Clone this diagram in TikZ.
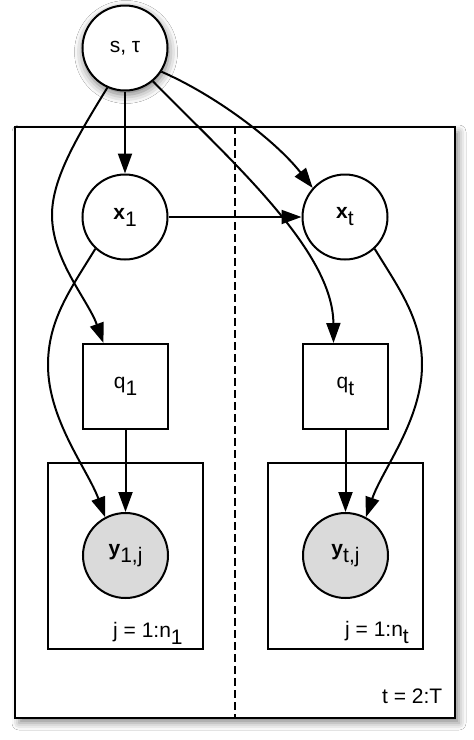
\documentclass[tikz,border=0pt]{standalone}
\usepackage{fontspec}
\setmainfont{Liberation Sans}
\usetikzlibrary{arrows.meta,shadows.blur}
\definecolor{obsgray}{RGB}{218,218,218}
\newcommand\lowsub[1]{\raisebox{-7pt}{#1}}
\begin{document}
\begin{tikzpicture}[x=1pt,y=-1pt,
  font=\fontsize{21}{24}\selectfont,
  arr/.style={line width=2pt, -{Triangle[length=20pt,width=14pt]}},
  var/.style={circle, draw, line width=2pt, minimum size=85pt, inner sep=0pt, fill=white},
  obs/.style={var, fill=obsgray},
  factor/.style={rectangle, draw, line width=2pt, minimum size=85pt, inner sep=0pt, fill=white},
  plate/.style={rectangle, draw, line width=2pt, inner sep=0pt},
  lbl/.style={inner sep=0pt, anchor=base west},
]
\useasboundingbox[fill=white] (0,0) rectangle (474,740);

% outer plate
\node[plate, fill=white, minimum width=440pt, minimum height=591pt,
      blur shadow={shadow xshift=4pt, shadow yshift=-5pt, shadow blur radius=7pt, shadow opacity=45}]
      (outer) at (235,422.5) {};
\draw[dashed, dash pattern=on 8pt off 4pt, line width=1.6pt] (outer.north) -- (outer.south);
\node[lbl] (tlab) at (382,703) {t = 2:T};

% inner plates
\node[plate, minimum width=155pt, minimum height=186pt] (plate1) at (125.5,556) {};
\node[plate, minimum width=155pt, minimum height=186pt] (platet) at (345.5,556) {};
\node[lbl] (jlab1) at (113,637) {j = 1:n\lowsub{1}};
\node[lbl] (jlabt) at (345,636) {j = 1:n\lowsub{t}};

% nodes
\node[var, blur shadow={shadow xshift=1pt, shadow yshift=-4pt, shadow blur radius=9pt, shadow opacity=55}]
      (s) at (125,48) {s, τ};
\node[var] (x1) at (125,217) {\textbf{x}\lowsub{1}};
\node[var] (xt) at (345,217) {\textbf{x}\lowsub{t}};
\node[factor] (q1) at (125.5,386.5) {q\lowsub{1}};
\node[factor] (qt) at (345.5,386.5) {q\lowsub{t}};
\node[obs] (y1) at (125.5,555.5) {\textbf{y}\lowsub{1,j}};
\node[obs] (yt) at (345.5,555.5) {\textbf{y}\lowsub{t,j}};

% edges
\draw[arr] (s) -- (x1);
\draw[arr] (s.327) .. controls (215,95) and (275,140) .. (xt.138);
\draw[arr] (x1) -- (xt);
\draw[arr] (s.246) .. controls (75,140) and (52,180) .. (52,215)
                   .. controls (52,260) and (88,300) .. ([xshift=-22pt]q1.north);
\draw[arr] (s.310) .. controls (230,160) and (333,250) .. ([xshift=-12pt]qt.north);
\draw[arr] (x1.227) .. controls (70,290) and (48,320) .. (48,365)
                    .. controls (48,420) and (88,470) .. (y1.118);
\draw[arr] (xt.313) .. controls (400,290) and (422,320) .. (422,365)
                    .. controls (422,420) and (382,470) .. (yt.62);
\draw[arr] (q1) -- (y1);
\draw[arr] (qt) -- (yt);
\end{tikzpicture}
\end{document}
